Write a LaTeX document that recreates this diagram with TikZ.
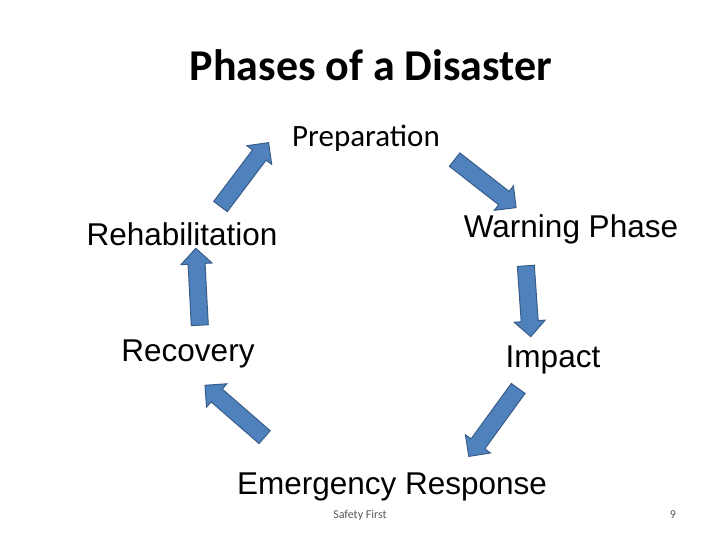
\documentclass[tikz,border=0pt]{standalone}
\usepackage{fontspec}
\setmainfont{Liberation Sans}
\newfontfamily\carl{Carlito}
\usetikzlibrary{shapes.arrows}
\definecolor{ablue}{RGB}{79,129,189}
\definecolor{aedge}{RGB}{56,93,138}
\begin{document}
\begin{tikzpicture}[x=1pt,y=-1pt,
  blk/.style={single arrow,draw=aedge,fill=ablue,line width=1pt,inner sep=0pt,minimum height=#1,minimum width=30pt,single arrow head extend=7pt,single arrow head indent=0pt,text height=16pt},
  lab/.style={font=\fontsize{31.5}{36}\selectfont,inner sep=0pt}]
\useasboundingbox (0,0) rectangle (720,540);
\node[font=\carl\bfseries\fontsize{44}{50}\selectfont] (title) at (371,65) {Phases of a Disaster};
\node[font=\carl\fontsize{31}{36}\selectfont,inner sep=0pt] (prep) at (366,138) {Preparation};
\node[lab] (warn) at (571,229) {Warning Phase};
\node[lab] (rehab) at (182,234) {Rehabilitation};
\node[lab] (rec) at (188,354) {Recovery};
\node[lab] (imp) at (553,360) {Impact};
\node[lab] (emer) at (392,487) {Emergency Response};
\node[font=\carl\fontsize{12}{14}\selectfont,text=gray!70!black] (foot) at (360,515) {Safety First};
\node[font=\carl\fontsize{12}{14}\selectfont,text=gray!70!black] (num) at (673,515) {9};
\node[blk=78pt,rotate=-38] (a1) at (482,181) {};
\node[blk=71pt,rotate=-86] (a2) at (528,297) {};
\node[blk=84pt,rotate=-126] (a3) at (496,419) {};
\node[blk=79pt,rotate=139] (a4) at (238,414) {};
\node[blk=77pt,rotate=93] (a5) at (198,291) {};
\node[blk=80pt,rotate=53] (a6) at (242,178) {};
\end{tikzpicture}
\end{document}
